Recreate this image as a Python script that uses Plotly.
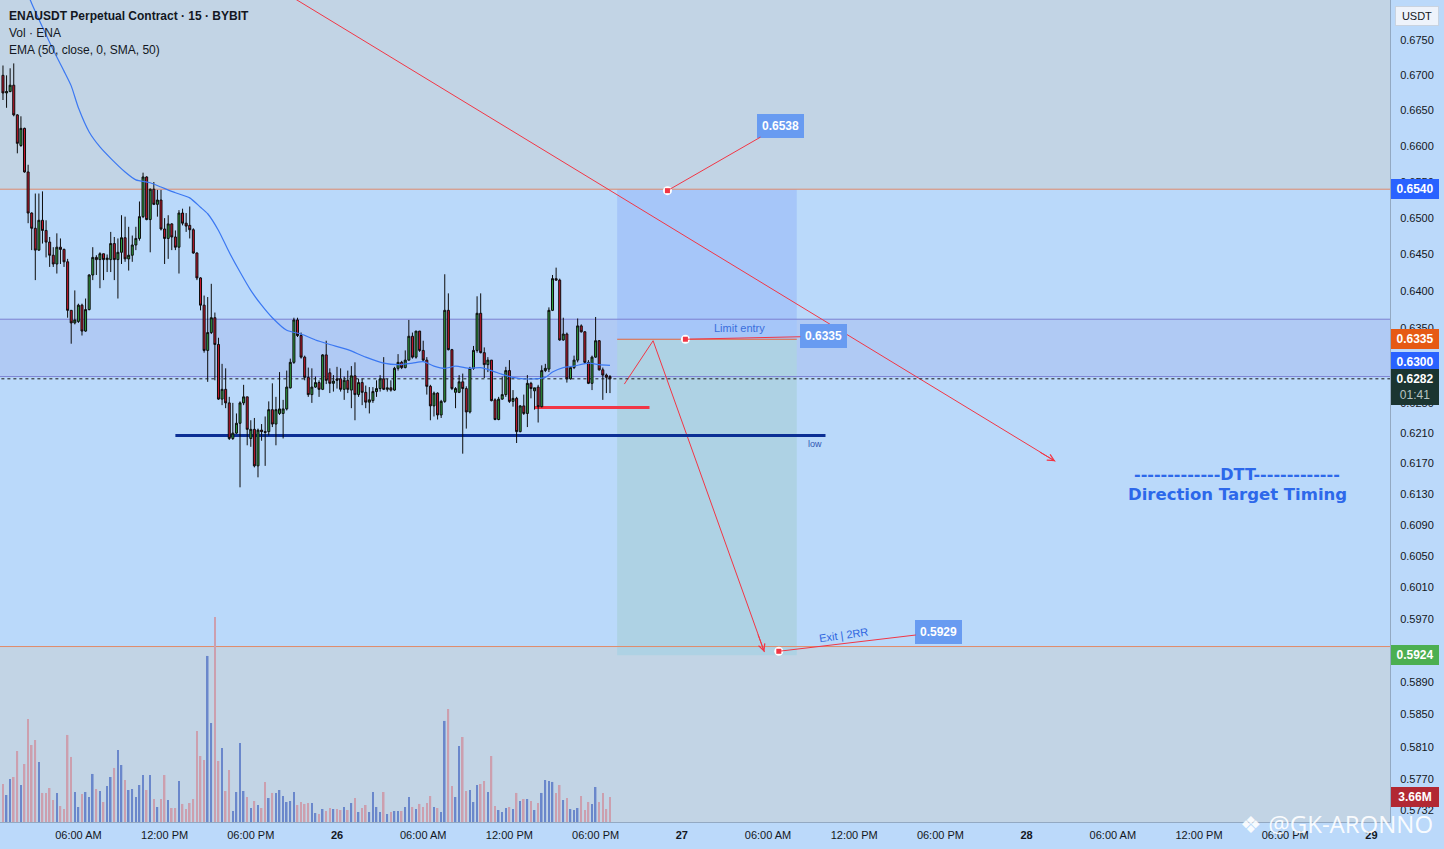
import math
import pandas as pd
import plotly.graph_objects as go

# ---------------- data ----------------
start_time = "2025-09-25 00:45"   # first visible 15-minute candle

opens = [0.6700, 0.6675, 0.6677, 0.6686, 0.6644, 0.6601, 0.6625, 0.6564, 0.6507, 0.6486,
         0.6456, 0.6497, 0.6483, 0.6467, 0.6449, 0.6437, 0.6460, 0.6457, 0.6440, 0.6374,
         0.6357, 0.6359, 0.6381, 0.6346, 0.6375, 0.6422, 0.6446, 0.6443, 0.6451, 0.6443,
         0.6443, 0.6465, 0.6443, 0.6453, 0.6473, 0.6444, 0.6449, 0.6463, 0.6472, 0.6502,
         0.6557, 0.6498, 0.6540, 0.6519, 0.6525, 0.6485, 0.6472, 0.6492, 0.6474, 0.6460,
         0.6507, 0.6493, 0.6490, 0.6484, 0.6452, 0.6418, 0.6381, 0.6320, 0.6344, 0.6364,
         0.6328, 0.6255, 0.6268, 0.6250, 0.6203, 0.6210, 0.6223, 0.6250, 0.6258, 0.6203,
         0.6215, 0.6167, 0.6214, 0.6212, 0.6212, 0.6241, 0.6222, 0.6236, 0.6236, 0.6242,
         0.6270, 0.6304, 0.6361, 0.6340, 0.6311, 0.6284, 0.6261, 0.6271, 0.6277, 0.6268,
         0.6314, 0.6290, 0.6276, 0.6282, 0.6282, 0.6268, 0.6280, 0.6267, 0.6286, 0.6261,
         0.6277, 0.6264, 0.6251, 0.6253, 0.6265, 0.6269, 0.6282, 0.6268, 0.6270, 0.6267,
         0.6296, 0.6304, 0.6297, 0.6307, 0.6339, 0.6311, 0.6346, 0.6320, 0.6307, 0.6272,
         0.6246, 0.6263, 0.6234, 0.6252, 0.6374, 0.6321, 0.6264, 0.6264, 0.6278, 0.6269,
         0.6238, 0.6296, 0.6320, 0.6370, 0.6317, 0.6301, 0.6307, 0.6254, 0.6228, 0.6255,
         0.6261, 0.6293, 0.6252, 0.6256, 0.6212, 0.6246, 0.6236, 0.6276, 0.6266, 0.6271,
         0.6245, 0.6293, 0.6295, 0.6374, 0.6417, 0.6415, 0.6334, 0.6342, 0.6282, 0.6297,
         0.6307, 0.6353, 0.6345, 0.6304, 0.6276, 0.6311, 0.6333, 0.6294, 0.6287, 0.6285]

highs = [0.6714, 0.6700, 0.6710, 0.6717, 0.6645, 0.6642, 0.6626, 0.6574, 0.6508, 0.6534,
         0.6534, 0.6537, 0.6497, 0.6474, 0.6460, 0.6479, 0.6472, 0.6458, 0.6444, 0.6374,
         0.6401, 0.6383, 0.6383, 0.6390, 0.6423, 0.6460, 0.6449, 0.6453, 0.6451, 0.6450,
         0.6481, 0.6474, 0.6472, 0.6504, 0.6502, 0.6488, 0.6476, 0.6488, 0.6523, 0.6563,
         0.6558, 0.6541, 0.6550, 0.6539, 0.6539, 0.6500, 0.6504, 0.6493, 0.6483, 0.6511,
         0.6513, 0.6507, 0.6516, 0.6486, 0.6453, 0.6419, 0.6394, 0.6392, 0.6410, 0.6371,
         0.6337, 0.6302, 0.6296, 0.6258, 0.6250, 0.6236, 0.6252, 0.6274, 0.6258, 0.6227,
         0.6230, 0.6216, 0.6222, 0.6232, 0.6252, 0.6276, 0.6258, 0.6291, 0.6254, 0.6293,
         0.6309, 0.6364, 0.6364, 0.6344, 0.6313, 0.6297, 0.6296, 0.6285, 0.6280, 0.6315,
         0.6333, 0.6296, 0.6287, 0.6298, 0.6296, 0.6285, 0.6293, 0.6299, 0.6304, 0.6282,
         0.6282, 0.6273, 0.6271, 0.6271, 0.6280, 0.6287, 0.6311, 0.6282, 0.6280, 0.6298,
         0.6315, 0.6306, 0.6320, 0.6361, 0.6344, 0.6346, 0.6346, 0.6333, 0.6311, 0.6274,
         0.6265, 0.6264, 0.6254, 0.6423, 0.6397, 0.6322, 0.6271, 0.6287, 0.6289, 0.6272,
         0.6298, 0.6326, 0.6393, 0.6397, 0.6324, 0.6311, 0.6307, 0.6256, 0.6258, 0.6285,
         0.6298, 0.6307, 0.6267, 0.6258, 0.6247, 0.6261, 0.6287, 0.6278, 0.6270, 0.6274,
         0.6300, 0.6302, 0.6378, 0.6422, 0.6432, 0.6417, 0.6364, 0.6344, 0.6297, 0.6313,
         0.6363, 0.6355, 0.6346, 0.6307, 0.6313, 0.6365, 0.6334, 0.6297, 0.6289, 0.6287]

lows = [0.6665, 0.6654, 0.6676, 0.6642, 0.6590, 0.6599, 0.6563, 0.6493, 0.6456, 0.6415,
        0.6455, 0.6465, 0.6446, 0.6433, 0.6433, 0.6424, 0.6437, 0.6433, 0.6364, 0.6329,
        0.6355, 0.6357, 0.6340, 0.6345, 0.6374, 0.6415, 0.6422, 0.6404, 0.6415, 0.6426,
        0.6426, 0.6415, 0.6390, 0.6437, 0.6440, 0.6428, 0.6440, 0.6456, 0.6469, 0.6500,
        0.6497, 0.6453, 0.6518, 0.6502, 0.6483, 0.6437, 0.6444, 0.6456, 0.6456, 0.6424,
        0.6490, 0.6481, 0.6472, 0.6451, 0.6415, 0.6374, 0.6317, 0.6278, 0.6342, 0.6280,
        0.6254, 0.6247, 0.6243, 0.6201, 0.6201, 0.6209, 0.6139, 0.6247, 0.6194, 0.6192,
        0.6165, 0.6152, 0.6200, 0.6167, 0.6207, 0.6218, 0.6194, 0.6234, 0.6203, 0.6240,
        0.6269, 0.6302, 0.6338, 0.6309, 0.6280, 0.6258, 0.6250, 0.6270, 0.6258, 0.6267,
        0.6275, 0.6263, 0.6265, 0.6269, 0.6265, 0.6254, 0.6263, 0.6243, 0.6227, 0.6258,
        0.6247, 0.6243, 0.6236, 0.6250, 0.6258, 0.6265, 0.6267, 0.6265, 0.6265, 0.6266,
        0.6293, 0.6295, 0.6296, 0.6306, 0.6309, 0.6309, 0.6318, 0.6306, 0.6261, 0.6227,
        0.6232, 0.6228, 0.6230, 0.6250, 0.6320, 0.6267, 0.6243, 0.6263, 0.6183, 0.6216,
        0.6236, 0.6294, 0.6317, 0.6316, 0.6283, 0.6291, 0.6252, 0.6227, 0.6227, 0.6254,
        0.6258, 0.6250, 0.6245, 0.6197, 0.6211, 0.6234, 0.6218, 0.6256, 0.6241, 0.6224,
        0.6244, 0.6291, 0.6291, 0.6373, 0.6414, 0.6333, 0.6333, 0.6277, 0.6281, 0.6295,
        0.6304, 0.6344, 0.6302, 0.6275, 0.6267, 0.6310, 0.6293, 0.6254, 0.6263, 0.6263]

closes = [0.6675, 0.6677, 0.6686, 0.6644, 0.6604, 0.6625, 0.6564, 0.6507, 0.6486, 0.6456,
          0.6497, 0.6483, 0.6467, 0.6449, 0.6437, 0.6460, 0.6457, 0.6440, 0.6374, 0.6357,
          0.6361, 0.6381, 0.6346, 0.6375, 0.6422, 0.6446, 0.6443, 0.6451, 0.6443, 0.6445,
          0.6465, 0.6443, 0.6453, 0.6473, 0.6444, 0.6449, 0.6463, 0.6472, 0.6502, 0.6557,
          0.6498, 0.6540, 0.6519, 0.6525, 0.6485, 0.6472, 0.6492, 0.6474, 0.6460, 0.6507,
          0.6493, 0.6489, 0.6484, 0.6452, 0.6418, 0.6381, 0.6320, 0.6344, 0.6364, 0.6328,
          0.6255, 0.6268, 0.6250, 0.6203, 0.6210, 0.6223, 0.6250, 0.6258, 0.6215, 0.6215,
          0.6167, 0.6214, 0.6212, 0.6211, 0.6241, 0.6222, 0.6241, 0.6242, 0.6242, 0.6271,
          0.6304, 0.6361, 0.6340, 0.6311, 0.6284, 0.6261, 0.6271, 0.6277, 0.6268, 0.6314,
          0.6280, 0.6276, 0.6279, 0.6280, 0.6268, 0.6280, 0.6268, 0.6286, 0.6261, 0.6277,
          0.6264, 0.6251, 0.6254, 0.6265, 0.6269, 0.6282, 0.6268, 0.6270, 0.6267, 0.6296,
          0.6304, 0.6297, 0.6307, 0.6339, 0.6311, 0.6346, 0.6320, 0.6307, 0.6272, 0.6246,
          0.6263, 0.6234, 0.6252, 0.6374, 0.6321, 0.6269, 0.6269, 0.6278, 0.6269, 0.6238,
          0.6296, 0.6320, 0.6370, 0.6317, 0.6301, 0.6307, 0.6253, 0.6228, 0.6255, 0.6261,
          0.6293, 0.6252, 0.6256, 0.6212, 0.6246, 0.6236, 0.6276, 0.6269, 0.6270, 0.6245,
          0.6293, 0.6296, 0.6374, 0.6417, 0.6415, 0.6334, 0.6342, 0.6282, 0.6297, 0.6307,
          0.6353, 0.6345, 0.6304, 0.6276, 0.6311, 0.6333, 0.6294, 0.6287, 0.6284, 0.6282]

volumes_m = [5.56, 3.95, 6.30, 6.59, 10.39, 5.42, 8.49, 15.08, 11.27, 12.00,
             8.78, 4.25, 4.25, 4.98, 3.22, 4.25, 2.34, 1.90, 12.74, 9.52,
             4.39, 2.20, 4.10, 4.39, 3.66, 7.03, 4.83, 4.54, 2.93, 5.27,
             6.59, 7.91, 10.54, 8.34, 6.15, 4.68, 4.83, 3.66, 5.42, 6.88,
             4.68, 6.88, 3.37, 2.20, 3.37, 6.88, 3.22, 2.05, 2.05, 6.00,
             2.64, 1.90, 2.78, 3.37, 13.32, 9.66, 9.08, 24.30, 14.49, 30.01,
             8.93, 10.83, 4.54, 7.61, 1.61, 4.39, 11.57, 4.54, 3.66, 2.05,
             3.07, 2.49, 2.05, 5.86, 3.51, 4.25, 4.25, 4.68, 3.81, 2.93,
             3.07, 4.39, 2.49, 2.93, 2.64, 2.78, 2.78, 1.32, 1.17, 1.90,
             1.61, 2.05, 1.90, 1.90, 1.76, 2.20, 1.76, 2.78, 3.51, 1.46,
             2.05, 2.49, 1.46, 4.39, 2.20, 1.46, 4.39, 1.17, 1.46, 1.61,
             1.61, 1.61, 2.20, 3.66, 2.20, 1.90, 2.64, 2.20, 2.78, 3.81,
             2.20, 2.05, 1.46, 14.79, 16.54, 5.27, 3.66, 11.13, 12.44, 4.54,
             4.68, 2.93, 5.42, 5.56, 6.00, 4.39, 9.66, 2.34, 1.76, 1.46,
             2.05, 2.20, 1.90, 4.25, 3.07, 3.37, 3.37, 3.07, 1.76, 2.78,
             4.25, 6.15, 6.00, 5.86, 4.25, 5.42, 3.22, 3.51, 1.90, 1.76,
             2.05, 3.81, 1.76, 2.93, 2.64, 5.12, 2.93, 4.25, 1.90, 3.66]

# EMA(50) line, sampled at candle numbers (1 = first visible candle)
ema_idx = [7, 9, 12, 15, 18, 20, 22, 25, 28, 31, 35, 38, 42, 45, 49, 53, 56, 58, 61, 64,
           67, 70, 73, 76, 80, 84, 88, 92, 97, 102, 107, 111, 115, 118, 121, 124, 127, 131,
           134, 137, 140, 143, 146, 149, 152, 154, 157, 160, 164, 167, 170]
ema_val = [0.6829, 0.6803, 0.6769, 0.6736, 0.6706, 0.6685, 0.6654, 0.6620, 0.6599, 0.6583,
           0.6564, 0.6553, 0.6549, 0.6543, 0.6535, 0.6528, 0.6515, 0.6506, 0.6483, 0.6453,
           0.6426, 0.6401, 0.6381, 0.6364, 0.6347, 0.6342, 0.6334, 0.6328, 0.6321, 0.6311,
           0.6303, 0.6301, 0.6303, 0.6305, 0.6299, 0.6296, 0.6299, 0.6296, 0.6297, 0.6293,
           0.6288, 0.6284, 0.6282, 0.6282, 0.6284, 0.6291, 0.6297, 0.6299, 0.6303, 0.6301,
           0.6300]

# axis ticks
x_tick_times = ["2025-09-25 06:00", "2025-09-25 12:00", "2025-09-25 18:00", "2025-09-26 00:00",
                "2025-09-26 06:00", "2025-09-26 12:00", "2025-09-26 18:00", "2025-09-27 00:00",
                "2025-09-27 06:00", "2025-09-27 12:00", "2025-09-27 18:00", "2025-09-28 00:00",
                "2025-09-28 06:00", "2025-09-28 12:00", "2025-09-28 18:00", "2025-09-29 00:00"]
x_tick_text = ["06:00 AM", "12:00 PM", "06:00 PM", "<b>26</b>",
               "06:00 AM", "12:00 PM", "06:00 PM", "<b>27</b>",
               "06:00 AM", "12:00 PM", "06:00 PM", "<b>28</b>",
               "06:00 AM", "12:00 PM", "06:00 PM", "<b>29</b>"]
y_tick_vals = [0.6750, 0.6700, 0.6650, 0.6600, 0.6550, 0.6500, 0.6450, 0.6400, 0.6350, 0.6300,
               0.6250, 0.6210, 0.6170, 0.6130, 0.6090, 0.6050, 0.6010, 0.5970, 0.5930, 0.5890,
               0.5850, 0.5810, 0.5770, 0.5732]

# drawings (prices / times)
zone_top, zone_bottom = 0.6540, 0.5935
band_top, band_bottom = 0.6362, 0.6285
pos_start, pos_end = "2025-09-26 19:30", "2025-09-27 08:00"
pos_stop, pos_entry, pos_target = 0.6540, 0.6335, 0.5924
last_price = 0.6282
last_volume = 3.66
trend_t, trend_p = ["2025-09-25 20:30", "2025-09-28 02:00"], [0.6817, 0.6173]
zig_t = ["2025-09-26 20:00", "2025-09-26 22:00", "2025-09-27 05:45"]
zig_p = [0.6275, 0.6333, 0.5928]
support_t, support_p = ["2025-09-26 13:45", "2025-09-26 21:45"], 0.6244
low_t, low_p = ["2025-09-25 12:45", "2025-09-27 10:00"], 0.6207
callout_t = ["2025-09-26 23:00", "2025-09-27 00:15", "2025-09-27 06:45"]
callout_p = [0.6538, 0.6335, 0.5929]
callout_text = ["0.6538", "0.6335", "0.5929"]

# ---------------- build ----------------
n = min(len(opens), len(highs), len(lows), len(closes), len(volumes_m))
times = pd.date_range(start_time, periods=n, freq="15min")
ema_times = [times[0] + pd.Timedelta(minutes=15 * (i - 1)) for i in ema_idx]
far_l, far_r = "2025-09-24 00:00", "2025-09-30 00:00"

RED = "#f23645"
fig = go.Figure()


def rect(t0, t1, p0, p1, color):
    fig.add_trace(go.Scatter(x=[t0, t1, t1, t0, t0], y=[p0, p0, p1, p1, p0], mode="lines",
                             fill="toself", fillcolor=color, line=dict(width=0),
                             hoverinfo="skip", showlegend=False))


def hline(t0, t1, p, color, width=1, dash="solid", yaxis="y"):
    fig.add_trace(go.Scatter(x=[t0, t1], y=[p, p], mode="lines", yaxis=yaxis,
                             line=dict(color=color, width=width, dash=dash),
                             hoverinfo="skip", showlegend=False))


# ---- base layer (y): zones, bands, position tool, drawings ----
rect(far_l, far_r, zone_top, zone_bottom, "#bad9fa")
rect(far_l, far_r, band_top, band_bottom, "rgba(110,100,205,0.12)")
rect(pos_start, pos_end, pos_stop, pos_entry, "#a6c6f9")
rect(pos_start, pos_end, pos_entry, pos_target, "#aed2e4")
hline(pos_start, pos_end, pos_entry, "#e4653c", 1.2)
hline(far_l, far_r, zone_top, "#e08c6c", 1)
hline(far_l, far_r, zone_bottom, "#e08c6c", 1)
hline(far_l, far_r, band_top, "#7c80d2", 1)
hline(far_l, far_r, band_bottom, "#7c80d2", 1)

fig.add_trace(go.Scatter(x=trend_t, y=trend_p, mode="lines", line=dict(color=RED, width=1),
                         hoverinfo="skip", showlegend=False))
fig.add_trace(go.Scatter(x=zig_t, y=zig_p, mode="lines", line=dict(color=RED, width=1),
                         hoverinfo="skip", showlegend=False))
hline(support_t[0], support_t[1], support_p, RED, 3)
hline(low_t[0], low_t[1], low_p, "#0c2f95", 3)
hline(far_l, far_r, last_price, "#1a1a1a", 1, "dot")

fig.add_trace(go.Scatter(x=callout_t, y=callout_p, mode="markers",
                         marker=dict(symbol="circle", size=9, color="white"),
                         hoverinfo="skip", showlegend=False))
fig.add_trace(go.Scatter(x=callout_t, y=callout_p, mode="markers",
                         marker=dict(symbol="square", size=5, color=RED),
                         hoverinfo="skip", showlegend=False))

# ---- volume (overlay y2) ----
vol_colors = ["#6a87cb" if closes[i] >= opens[i] else "#cc9fae" for i in range(n)]
fig.add_trace(go.Bar(x=times, y=volumes_m[:n], marker=dict(color=vol_colors, line=dict(width=0)),
                     width=400000, yaxis="y2", hoverinfo="skip", showlegend=False))

# ---- candles + EMA (overlay y3, drawn above the zones) ----
fig.add_trace(go.Candlestick(
    x=times, open=opens[:n], high=highs[:n], low=lows[:n], close=closes[:n], yaxis="y3",
    increasing=dict(line=dict(color="#0d0d0d", width=1), fillcolor="#2f9e3f"),
    decreasing=dict(line=dict(color="#0d0d0d", width=1), fillcolor="#c3172c"),
    whiskerwidth=0, hoverinfo="skip", showlegend=False))
fig.add_trace(go.Scatter(x=ema_times, y=ema_val, mode="lines", yaxis="y3",
                         line=dict(color="#3b78f2", width=1.2, shape="spline", smoothing=0.6),
                         hoverinfo="skip", showlegend=False))

# ---------------- annotations ----------------
L = math.log10
ann = []
FONT = "Liberation Sans"
for i, (txt, bold) in enumerate([("ENAUSDT Perpetual Contract · 15 · BYBIT", True),
                                 ("Vol · ENA", False),
                                 ("EMA (50, close, 0, SMA, 50)", False)]):
    ann.append(dict(xref="paper", yref="paper", x=0, y=1, xanchor="left", yanchor="middle",
                    xshift=7, yshift=-16 - 17 * i, showarrow=False,
                    text=f"<b>{txt}</b>" if bold else txt,
                    font=dict(family=FONT, size=12, color="#131722")))
for t, p, txt, dx, dy in zip(callout_t, callout_p, callout_text, [113, 138, 160], [-65, -3, -19]):
    ann.append(dict(x=t, y=L(p), xref="x", yref="y", text=f"<b>{txt}</b>", showarrow=True,
                    arrowhead=0, arrowcolor=RED, arrowwidth=1, ax=dx, ay=dy,
                    bgcolor="#689bf1", bordercolor="#689bf1", borderpad=4,
                    font=dict(family=FONT, size=12, color="white")))
ann.append(dict(x="2025-09-27 04:00", y=L(0.6350), xref="x", yref="y", text="Limit entry",
                showarrow=False, font=dict(family=FONT, size=11, color="#3a6fdc")))
ann.append(dict(x="2025-09-27 09:15", y=L(0.6196), xref="x", yref="y", text="low",
                showarrow=False, font=dict(family=FONT, size=9, color="#3057b3")))
ann.append(dict(x="2025-09-27 11:15", y=L(0.5950), xref="x", yref="y", text="Exit | 2RR",
                showarrow=False, textangle=-8, font=dict(family=FONT, size=11, color="#2f66e0")))
ann.append(dict(x=trend_t[1], y=L(trend_p[1]), xref="x", yref="y", text="", showarrow=True,
                arrowhead=5, arrowsize=1.3, arrowwidth=1, arrowcolor=RED, ax=-17, ay=-10))
ann.append(dict(x=zig_t[2], y=L(zig_p[2]), xref="x", yref="y", text="", showarrow=True,
                arrowhead=5, arrowsize=1.3, arrowwidth=1, arrowcolor=RED, ax=-7, ay=-19))
ann.append(dict(x="2025-09-28 14:40", y=L(0.6156), xref="x", yref="y",
                text="<b>-------------DTT-------------</b>", showarrow=False,
                font=dict(family="DejaVu Sans", size=16, color="#2d68ea")))
ann.append(dict(x="2025-09-28 14:40", y=L(0.6130), xref="x", yref="y",
                text="<b>Direction Target Timing</b>", showarrow=False,
                font=dict(family="DejaVu Sans", size=16.5, color="#2d68ea")))
for p, txt, col, ys in [(pos_stop, "0.6540", "#2962ff", 0), (pos_entry, "0.6335", "#e65a14", 0),
                        (0.6300, "0.6300", "#2962ff", 3), (pos_target, "0.5924", "#4caf50", 0)]:
    ann.append(dict(xref="paper", yref="y", x=1, y=L(p), xanchor="left", yanchor="middle",
                    xshift=1, yshift=ys, text=f"<b>{txt}</b>", showarrow=False, width=42,
                    bgcolor=col, bordercolor=col, borderpad=2,
                    font=dict(family=FONT, size=12, color="white")))
ann.append(dict(xref="paper", yref="y", x=1, y=L(last_price), xanchor="left", yanchor="middle",
                xshift=1, yshift=-8,
                text=f"<b>{last_price:.4f}</b><br><span style='color:#b8c4c2'>01:41</span>",
                showarrow=False, width=42, bgcolor="#1b3531", bordercolor="#1b3531", borderpad=2,
                font=dict(family=FONT, size=12, color="white")))
ann.append(dict(xref="paper", yref="y2", x=1, y=last_volume, xanchor="left", yanchor="middle",
                xshift=1, text=f"<b>{last_volume:.2f}M</b>", showarrow=False, width=42,
                bgcolor="#b22833", bordercolor="#b22833", borderpad=2,
                font=dict(family=FONT, size=12, color="white")))
ann.append(dict(xref="paper", yref="paper", x=1, y=1, xanchor="left", yanchor="top",
                xshift=5, yshift=-6, text="USDT", showarrow=False, width=36,
                bgcolor="#eef3fb", bordercolor="#c9d3e0", borderpad=3,
                font=dict(family=FONT, size=11, color="#131722")))
ann.append(dict(xref="paper", yref="paper", x=1, y=0, xanchor="right", yanchor="middle",
                xshift=45, yshift=-1, text="❖ @GK-ARONNO", showarrow=False,
                font=dict(family="Open Sans", size=24, color="rgba(255,255,255,0.92)")))

# ---------------- layout ----------------
y_range = [L(0.5718), L(0.6808)]
fig.update_layout(
    width=1444, height=849, autosize=False,
    margin=dict(l=0, r=54, t=0, b=27),
    paper_bgcolor="#bbd9fa", plot_bgcolor="#c2d4e5",
    showlegend=False, boxgap=0.2,
    annotations=ann,
    xaxis=dict(type="date", range=["2025-09-25 00:32:36", "2025-09-29 01:17:30"],
               tickvals=x_tick_times, ticktext=x_tick_text, showgrid=False, zeroline=False,
               showline=True, linecolor="#93a9c2", linewidth=1, ticks="",
               ticklabelstandoff=3, tickfont=dict(family=FONT, size=11, color="#131722"),
               rangeslider=dict(visible=False), fixedrange=True),
    yaxis=dict(type="log", range=y_range, side="right",
               tickvals=y_tick_vals, ticktext=[f"{v:.4f}" for v in y_tick_vals],
               showgrid=False, zeroline=False, showline=True, linecolor="#93a9c2", linewidth=1,
               ticks="", ticklabelstandoff=7,
               tickfont=dict(family=FONT, size=11, color="#131722"), fixedrange=True),
    yaxis2=dict(overlaying="y", range=[0, 120.3], visible=False, fixedrange=True),
    yaxis3=dict(overlaying="y", type="log", range=y_range, visible=False, fixedrange=True),
)

fig.write_html("out.html", config={"displayModeBar": False},
               post_script="document.body.style.margin='0';")
